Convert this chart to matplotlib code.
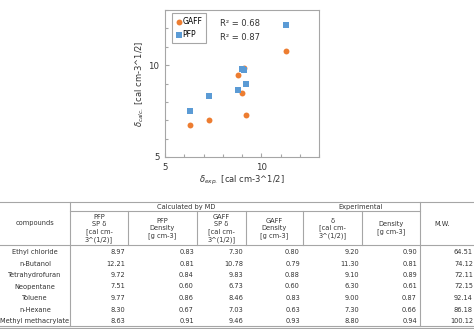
import matplotlib.pyplot as plt
from matplotlib.ticker import MultipleLocator

compounds = ["Ethyl chloride", "n-Butanol", "Tetrahydrofuran", "Neopentane",
             "Toluene", "n-Hexane", "Methyl methacrylate"]
pfp_sp = [8.97, 12.21, 9.72, 7.51, 9.77, 8.30, 8.63]
pfp_dens = [0.83, 0.81, 0.84, 0.60, 0.86, 0.67, 0.91]
gaff_sp = [7.30, 10.78, 9.83, 6.73, 8.46, 7.03, 9.46]
gaff_dens = [0.80, 0.79, 0.88, 0.60, 0.83, 0.63, 0.93]
exp_sp = [9.20, 11.30, 9.10, 6.30, 9.00, 7.30, 8.80]
exp_dens = [0.90, 0.81, 0.89, 0.61, 0.87, 0.66, 0.94]
mw = [64.51, 74.12, 72.11, 72.15, 92.14, 86.18, 100.12]
r2_gaff = 0.68
r2_pfp = 0.87

headers = ["compounds", "PFP\nSP δ\n[cal cm-\n3^(1/2)]", "PFP\nDensity\n[g cm-3]",
           "GAFF\nSP δ\n[cal cm-\n3^(1/2)]", "GAFF\nDensity\n[g cm-3]",
           "δ\n[cal cm-\n3^(1/2)]", "Density\n[g cm-3]", "M.W."]

plt.rcParams["font.family"] = "DejaVu Sans"
plt.rcParams["mathtext.fontset"] = "dejavusans"
orange = "#ED7D31"
blue = "#5B9BD5"
gray = "#A6A6A6"
txt = "#333333"

fig = plt.figure(figsize=(4.74, 3.29), dpi=100)

# scatter chart
ax = fig.add_axes([165/474, 1-157/329, 154/474, 147/329])
ax.scatter(exp_sp, gaff_sp, s=18, color=orange, marker="o", label="GAFF", zorder=3, linewidths=0)
ax.scatter(exp_sp, pfp_sp, s=15, color=blue, marker="s", label="PFP", zorder=3, linewidths=0)
ax.set_xlim(5, 13)
ax.set_ylim(5, 13)
for a in (ax.xaxis, ax.yaxis):
    a.set_major_locator(MultipleLocator(5))
    a.set_minor_locator(MultipleLocator(1))
ax.tick_params(which="both", direction="in", color=gray, labelsize=6.2, labelcolor=txt, width=0.8)
ax.tick_params(which="major", length=3, pad=4)
ax.tick_params(which="minor", length=2)
for sp in ax.spines.values():
    sp.set_color(gray)
    sp.set_linewidth(0.8)
ax.set_xlabel(r"$\delta_{exp.}$ [cal cm-3^1/2]", fontsize=6, color=txt, labelpad=2)
ax.set_ylabel(r"$\delta_{calc.}$ [cal cm-3^1/2]", fontsize=6, color=txt, labelpad=2)
leg = ax.legend(loc="upper left", bbox_to_anchor=(0.045, 0.98), fontsize=5.6, fancybox=False,
                edgecolor=gray, handletextpad=0.05, handlelength=0.8, borderpad=0.5,
                labelspacing=0.6, borderaxespad=0, framealpha=1)
leg.get_frame().set_linewidth(0.8)
ax.text(0.36, 0.905, "R² = %.2f" % r2_gaff, transform=ax.transAxes, fontsize=6, color=txt, va="center")
ax.text(0.36, 0.816, "R² = %.2f" % r2_pfp, transform=ax.transAxes, fontsize=6, color=txt, va="center")

# table
tb = fig.add_axes([0, 0, 1, 1])
tb.set_xlim(0, 474)
tb.set_ylim(329, 0)
tb.axis("off")
edges = [0, 70, 128, 197, 246, 303, 362, 420, 476]
lw = 0.8
tb.plot([0, 474], [202, 202], color=gray, lw=lw)
tb.plot([70, 420], [211, 211], color=gray, lw=lw)
tb.plot([0, 474], [245, 245], color=gray, lw=lw)
tb.plot([0, 474], [325.5, 325.5], color=gray, lw=lw)
tb.plot([0, 474], [327.8, 327.8], color=gray, lw=lw)
for x in (70, 420):
    tb.plot([x, x], [202, 325.5], color=gray, lw=lw)
for x in edges[2:7]:
    tb.plot([x, x], [211, 245], color=gray, lw=lw)

fs = 4.8
tb.text(186, 206.5, "Calculated by MD", ha="center", va="center", fontsize=fs, color=txt)
tb.text(361, 206.5, "Experimental", ha="center", va="center", fontsize=fs, color=txt)
tb.text(35, 223.5, headers[0], ha="center", va="center", fontsize=fs, color=txt)
tb.text(442, 223.5, headers[-1], ha="center", va="center", fontsize=fs, color=txt)
for i in range(1, 7):
    cx = (edges[i] + edges[i+1]) / 2
    tb.text(cx, 228.3, headers[i], ha="center", va="center", fontsize=fs, color=txt,
            linespacing=1.2)

cols = [pfp_sp, pfp_dens, gaff_sp, gaff_dens, exp_sp, exp_dens, mw]
for r, name in enumerate(compounds):
    y = 252 + r * 11.5
    tb.text(35, y, name, ha="center", va="center", fontsize=fs, color=txt)
    for c, col in enumerate(cols):
        tb.text(edges[c+2] - 3, y, "%.2f" % col[r], ha="right", va="center", fontsize=fs, color=txt)

fig.savefig("out.png", dpi=100)
